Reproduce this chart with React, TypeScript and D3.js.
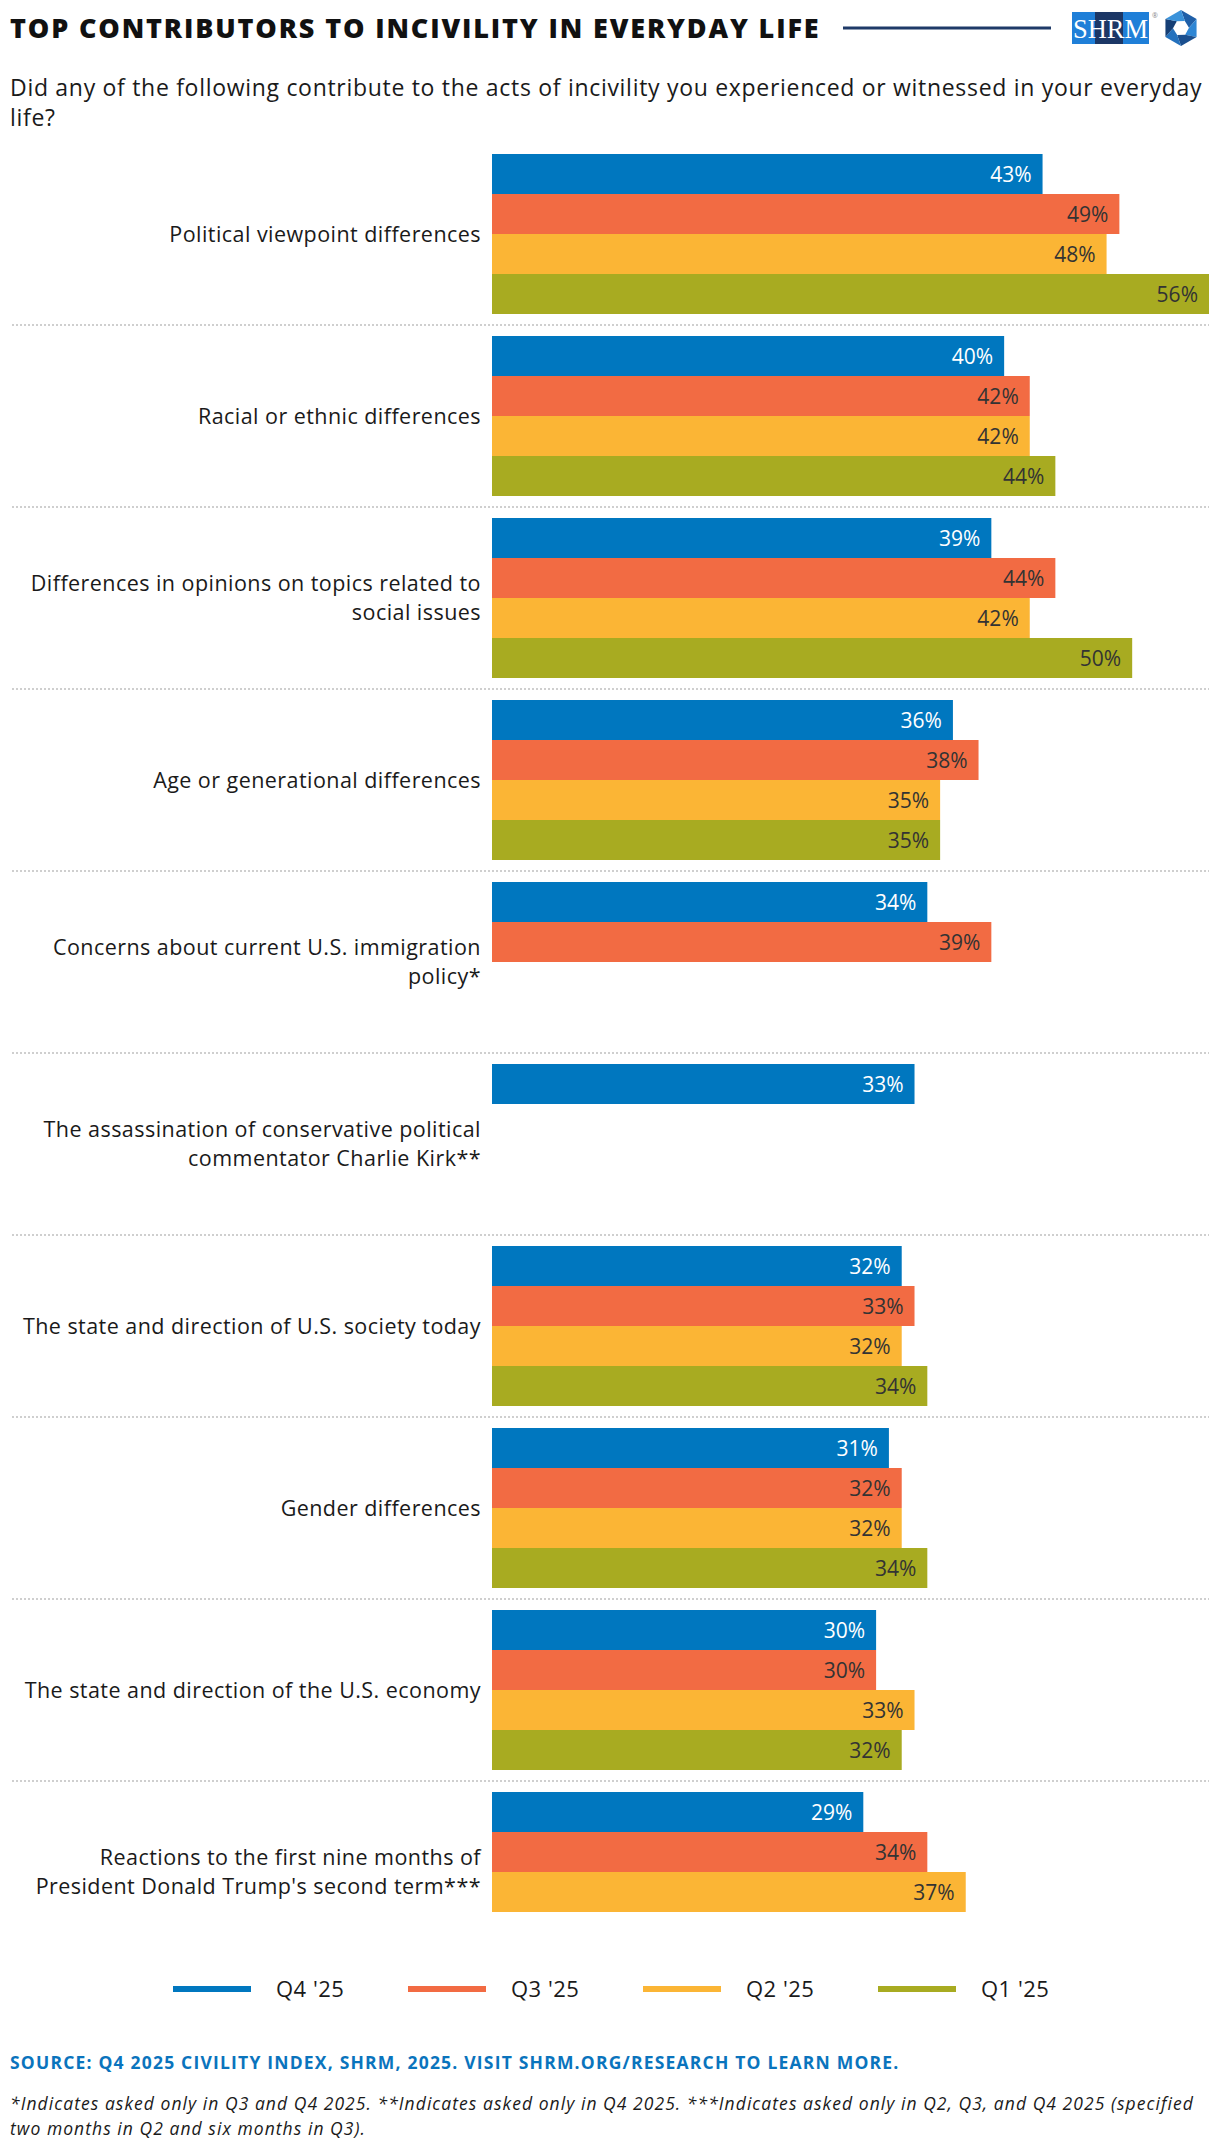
import * as d3 from 'd3'

// Survey categories (each entry is the label split into its display lines)
const categories = [
  ['Political viewpoint differences'],
  ['Racial or ethnic differences'],
  ['Differences in opinions on topics related to', 'social issues'],
  ['Age or generational differences'],
  ['Concerns about current U.S. immigration', 'policy*'],
  ['The assassination of conservative political', 'commentator Charlie Kirk**'],
  ['The state and direction of U.S. society today'],
  ['Gender differences'],
  ['The state and direction of the U.S. economy'],
  ['Reactions to the first nine months of', "President Donald Trump's second term***"],
]

const seriesNames = ["Q4 '25", "Q3 '25", "Q2 '25", "Q1 '25"]

// Percent of respondents, null where the item was not asked that quarter
const q4Values = [43, 40, 39, 36, 34, 33, 32, 31, 30, 29]
const q3Values = [49, 42, 44, 38, 39, null, 33, 32, 30, 34]
const q2Values = [48, 42, 42, 35, null, null, 32, 32, 33, 37]
const q1Values = [56, 44, 50, 35, null, null, 34, 34, 32, null]

const seriesValues = [q4Values, q3Values, q2Values, q1Values]
const seriesColors = ['#0077bf', '#f26b43', '#fbb535', '#a8ab21']
const labelColors = ['#ffffff', '#333333', '#333333', '#333333']

const W = 1220
const H = 2154
const FONT = '"Open Sans", Lato, sans-serif'
const SERIF = '"Liberation Serif", "DejaVu Serif", serif'

export default function App() {
  const catKeys = categories.map((_, i) => String(i))

  const x = d3.scaleLinear().domain([0, 56]).range([492, 1209])

  const y = d3.scaleBand()
    .domain(catKeys)
    .range([154, 1952])
    .paddingInner(22 / 182)
    .paddingOuter(0)

  const inner = d3.scaleBand()
    .domain(seriesNames)
    .range([0, y.bandwidth()])

  const legendX = d3.scalePoint()
    .domain(seriesNames)
    .range([173, 878])

  // hexagonal ring of the logo mark, split into six shaded segments
  const hexFills = ['#1f5fa8', '#2e86d4', '#1a4f8f', '#2471bd', '#163f75', '#3a92da']
  const hexCx = 1181
  const hexCy = 28

  return (
    <div style={{ position: 'absolute', left: 0, top: 0 }}>
      <svg width={W} height={H} style={{ display: 'block', background: '#fff' }} fontFamily={FONT}>
        {/* header */}
        <text x={10} y={38} fontSize={27} fontWeight={800} letterSpacing={1.85} fill="#111">
          TOP CONTRIBUTORS TO INCIVILITY IN EVERYDAY LIFE
        </text>
        <line x1={843} x2={1051} y1={28} y2={28} stroke="#1f3a68" strokeWidth={3} />

        {/* SHRM logo */}
        <g>
          <rect x={1072} y={12} width={77} height={32} fill="#1f7fd8" />
          <rect x={1095} y={12} width={28} height={32} fill="#1c3766" />
          <text x={1073} y={38} fontSize={27} fontFamily={SERIF} fill="#fff"
            textLength={75} lengthAdjust="spacingAndGlyphs">SHRM</text>
          <text x={1152} y={18} fontSize={7} fill="#888">®</text>
          {d3.range(6).map(k => {
            const a0 = (Math.PI / 3) * k - Math.PI / 2
            const a1 = a0 + Math.PI / 3
            const R = 18
            const r = 8
            const p: [number, number][] = [
              [hexCx + R * Math.cos(a0), hexCy + R * Math.sin(a0)],
              [hexCx + R * Math.cos(a1), hexCy + R * Math.sin(a1)],
              [hexCx + r * Math.cos(a1 + 0.5), hexCy + r * Math.sin(a1 + 0.5)],
              [hexCx + r * Math.cos(a0 + 0.5), hexCy + r * Math.sin(a0 + 0.5)],
            ]
            return <path key={k} d={d3.line()(p) + 'Z'} fill={hexFills[k]} />
          })}
        </g>

        <text fontSize={23} letterSpacing={0.7} fill="#1a1a1a">
          <tspan x={10} y={96}>Did any of the following contribute to the acts of incivility you experienced or witnessed in your everyday</tspan>
          <tspan x={10} y={126}>life?</tspan>
        </text>

        {/* dotted separators between groups */}
        {catKeys.slice(1).map(k => (
          <line key={'sep' + k} x1={12} x2={1209} y1={(y(k) as number) - 11} y2={(y(k) as number) - 11}
            stroke="#cfcfcf" strokeWidth={2} strokeDasharray="2,2" />
        ))}

        {categories.map((lines, i) => {
          const key = catKeys[i]
          const y0 = y(key) as number
          const cy = y0 + y.bandwidth() / 2
          const lh = 29
          const top = cy - ((lines.length - 1) * lh) / 2
          return (
            <g key={key}>
              <text textAnchor="end" fontSize={21.5} letterSpacing={0.45} fill="#1a1a1a">
                {lines.map((ln, j) => (
                  <tspan key={j} x={481} y={top + j * lh + 7.5}>{ln}</tspan>
                ))}
              </text>
              {seriesNames.map((s, si) => {
                const v = seriesValues[si][i]
                if (v == null) return null
                const by = y0 + (inner(s) as number)
                return (
                  <g key={s}>
                    <rect x={x(0)} y={by} width={x(v) - x(0)} height={inner.bandwidth()} fill={seriesColors[si]} />
                    <text x={x(v) - 11} y={by + inner.bandwidth() / 2 + 7.5} textAnchor="end"
                      fontSize={21} fill={labelColors[si]}>{v}%</text>
                  </g>
                )
              })}
            </g>
          )
        })}

        {/* legend */}
        {seriesNames.map((s, si) => {
          const lx = legendX(s) as number
          return (
            <g key={'lg' + s}>
              <rect x={lx} y={1986} width={78} height={6} fill={seriesColors[si]} />
              <text x={lx + 103} y={1997} fontSize={22} letterSpacing={0.5} fill="#1a1a1a">{s}</text>
            </g>
          )
        })}

        {/* source and notes */}
        <text x={10} y={2069} fontSize={17.5} fontWeight={700} letterSpacing={1.2} fill="#0a74bd">
          SOURCE: Q4 2025 CIVILITY INDEX, SHRM, 2025. VISIT SHRM.ORG/RESEARCH TO LEARN MORE.
        </text>
        <text fontSize={17.5} fontStyle="italic" letterSpacing={1.05} fill="#1a1a1a">
          <tspan x={10} y={2110}>*Indicates asked only in Q3 and Q4 2025. **Indicates asked only in Q4 2025. ***Indicates asked only in Q2, Q3, and Q4 2025 (specified</tspan>
          <tspan x={10} y={2135}>two months in Q2 and six months in Q3).</tspan>
        </text>
      </svg>
    </div>
  )
}
